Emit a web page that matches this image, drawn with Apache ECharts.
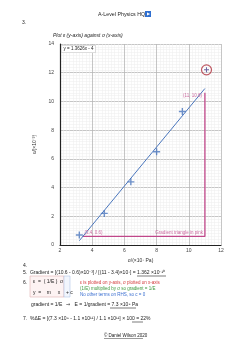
<!DOCTYPE html>
<html>
<head>
<meta charset="utf-8">
<script src="https://cdn.jsdelivr.net/npm/echarts@6/dist/echarts.min.js"></script>
<style>
  html, body { margin: 0; padding: 0; background: #fff; }
  #main { width: 247px; height: 350px; }
</style>
</head>
<body>
<div id="main"></div>
<script>
// measured points (sigma / 10^7 Pa, strain / 10^-3)
const stress = [3.2, 4.75, 6.4, 8.0, 9.6];
const strain = [0.7, 2.2, 4.4, 6.5, 9.3];
// anomalous point, circled
const anomaly = [11.1, 12.2];
// line of best fit end points
const fitX = [3.2, 11];
const fitY = [0.3, 10.9];
// gradient triangle corners
const triX = [3.4, 11, 11];
const triY = [0.6, 0.6, 10.6];
const xTicks = [2, 4, 6, 8, 10, 12];
const yTicks = [0, 2, 4, 6, 8, 10, 12, 14];

const FONT = 'Liberation Sans, Arial, sans-serif';
const BLUE = '#4a76bd';
const PINK = '#c0478a';
const PLUS = 'path://M4,0h2v4h4v2h-4v4h-2v-4h-4v-2h4z';

const chart = echarts.init(document.getElementById('main'));

// small helper for worksheet text
const txt = (x, y, text, style) => ({
  type: 'text',
  left: x,
  top: y,
  style: Object.assign({ text, fontSize: 5, fontFamily: FONT, fill: '#222' }, style || {}),
});
const uline = (x1, x2, y, color) => ({
  type: 'line',
  shape: { x1, y1: y, x2, y2: y },
  style: { stroke: color || '#222', lineWidth: 0.6 },
});

const option = {
  animation: false,
  grid: { left: 60, right: 26, top: 44, bottom: 105 },
  xAxis: {
    type: 'value',
    min: xTicks[0],
    max: xTicks[xTicks.length - 1],
    interval: 2,
    name: 'σ/(×10⁷ Pa)',
    nameLocation: 'middle',
    nameGap: 13,
    nameTextStyle: { fontSize: 5, fontFamily: FONT, color: '#333' },
    axisLine: { show: true, onZero: false, lineStyle: { color: '#222', width: 1.2 } },
    axisTick: { show: false },
    axisLabel: { fontSize: 5, fontFamily: FONT, color: '#444', margin: 3 },
    splitLine: { lineStyle: { color: '#b8b8b8', width: 0.8 } },
    minorTick: { show: false, splitNumber: 10 },
    minorSplitLine: { show: true, lineStyle: { color: '#ececec', width: 0.5 } },
  },
  yAxis: {
    type: 'value',
    min: yTicks[0],
    max: yTicks[yTicks.length - 1],
    interval: 2,
    name: 'ε/(×10⁻³)',
    nameLocation: 'middle',
    nameGap: 15,
    nameRotate: 90,
    nameTextStyle: { fontSize: 5, fontFamily: FONT, color: '#333' },
    axisLine: { show: true, onZero: false, lineStyle: { color: '#222', width: 1.2 } },
    axisTick: { show: false },
    axisLabel: { fontSize: 5, fontFamily: FONT, color: '#444', margin: 6 },
    splitLine: { lineStyle: { color: '#b8b8b8', width: 0.8 } },
    minorTick: { show: false, splitNumber: 10 },
    minorSplitLine: { show: true, lineStyle: { color: '#ececec', width: 0.5 } },
  },
  series: [
    {
      // gradient triangle
      type: 'line',
      data: triX.map((x, i) => [x, triY[i]]),
      showSymbol: false,
      lineStyle: { color: PINK, width: 1.3 },
      z: 3,
    },
    {
      // best fit
      type: 'line',
      data: fitX.map((x, i) => [x, fitY[i]]),
      showSymbol: false,
      lineStyle: { color: BLUE, width: 1 },
      z: 4,
    },
    {
      type: 'scatter',
      data: stress.map((x, i) => [x, strain[i]]),
      symbol: PLUS,
      symbolSize: 7,
      itemStyle: { color: BLUE },
      z: 5,
    },
    {
      // anomaly: ring + cross
      type: 'scatter',
      data: [anomaly],
      symbol: 'circle',
      symbolSize: 10,
      itemStyle: { color: 'rgba(255,255,255,0)', borderColor: '#b0303c', borderWidth: 1.2 },
      z: 5,
    },
    {
      type: 'scatter',
      data: [anomaly],
      symbol: PLUS,
      symbolSize: 5,
      itemStyle: { color: '#4a3f8a' },
      z: 6,
    },
    {
      // triangle labels
      type: 'scatter',
      symbolSize: 0,
      z: 7,
      label: {
        show: true,
        fontSize: 4.5,
        fontFamily: FONT,
        color: PINK,
        formatter: (p) => p.data.name,
      },
      data: [
        { name: '(11, 10.6)', value: [triX[2], triY[2]], label: { position: [-3, 0], align: 'right', verticalAlign: 'top' } },
        { name: '(3.4, 0.6)', value: [triX[0], triY[0]], label: { position: [2, -1], align: 'left', verticalAlign: 'bottom' } },
        { name: 'Gradient triangle in pink', value: [triX[1], triY[1]], label: { position: [-2, -1], align: 'right', verticalAlign: 'bottom' } },
      ],
    },
  ],
  graphic: [
    // header
    txt(98, 12, 'A-Level Physics HQ', { fontSize: 5.3 }),
    { type: 'rect', left: 145, top: 11, shape: { width: 6, height: 6 }, style: { fill: '#2f6fd0' } },
    txt(147, 12, '▶', { fontSize: 4, fill: '#fff' }),
    txt(22, 20, '3.'),
    txt(53, 33, 'Plot ε (y-axis) against σ (x-axis)', { fontStyle: 'italic' }),
    // equation box on the chart
    {
      type: 'text',
      left: 61,
      top: 45,
      z: 10,
      style: {
        text: 'y = 1.3626x - 4',
        fontSize: 4.5,
        fontFamily: FONT,
        fill: '#222',
        backgroundColor: '#fff',
        borderColor: '#bbb',
        borderWidth: 0.5,
        padding: [1, 2],
      },
    },
    // worksheet text below
    txt(23, 263, '4.'),
    txt(23, 270, '5.  Gradient = [(10.6 - 0.6)×10⁻³] / [(11 - 3.4)×10⁷] = 1.362 ×10⁻¹⁰'),
    uline(137, 166, 276),
    txt(23, 280, '6.'),
    {
      type: 'rect',
      shape: { x: 30, y: 276, width: 34, height: 21 },
      style: { fill: '#fdf3f3', stroke: '#d9a0a0', lineWidth: 0.5 },
    },
    {
      type: 'rect',
      shape: { x: 64, y: 276, width: 6, height: 21 },
      style: { fill: '#f2f6fd', stroke: '#a0b8e0', lineWidth: 0.5 },
    },
    txt(33, 279, 'ε  =  ( 1/E )  σ', { fontSize: 5 }),
    txt(33, 290, 'y  =    m     x    + c', { fontSize: 5 }),
    txt(80, 280, 'ε is plotted on y-axis, σ plotted on x-axis', { fontSize: 4.5, fill: '#d23a3a' }),
    txt(80, 286, '(1/E) multiplied by σ so gradient = 1/E', { fontSize: 4.5, fill: '#3f9a3f' }),
    txt(80, 292, 'No other terms on RHS, so c = 0', { fontSize: 4.5, fill: '#3a6fd0' }),
    txt(31, 302, 'gradient = 1/E   ⇒   E = 1/gradient = 7.3 ×10⁹ Pa'),
    uline(110, 136, 308),
    txt(23, 316, '7.  %ΔE = [(7.3 ×10⁹ - 1.1 ×10¹¹) / 1.1 ×10¹¹] × 100 = 22%'),
    uline(132, 143, 322),
    txt(104, 333, '© Daniel Wilson 2020', { fontSize: 4.5 }),
    uline(104, 143, 338.5, '#555'),
  ],
};

chart.setOption(option);
</script>
</body>
</html>
